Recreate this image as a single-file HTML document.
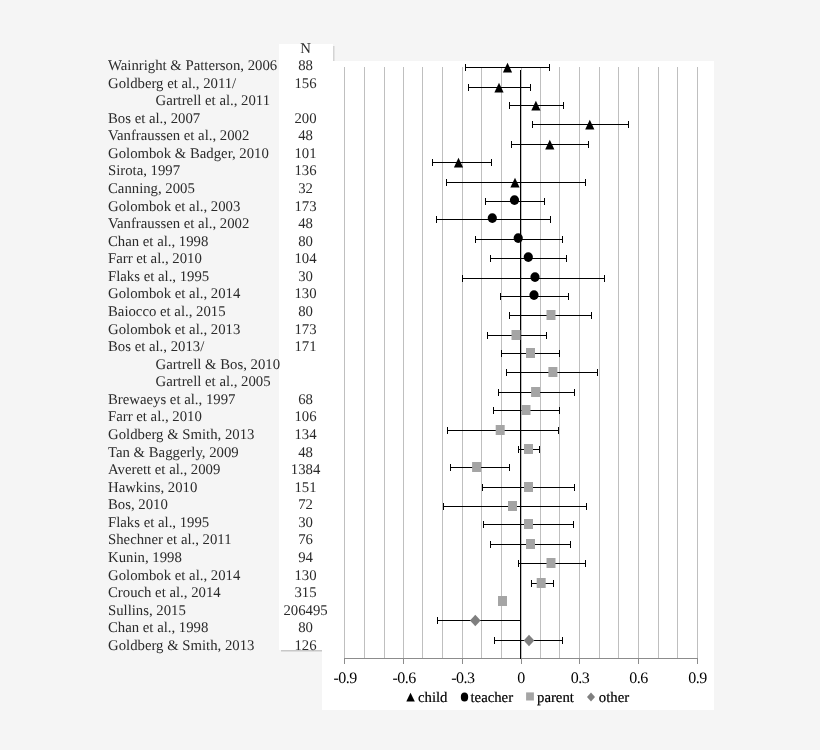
<!DOCTYPE html><html><head><meta charset="utf-8"><style>html,body{margin:0;padding:0;background:#f5f5f5;width:820px;height:750px;overflow:hidden}svg{display:block;will-change:transform}</style></head><body>
<svg width="820" height="750" viewBox="0 0 820 750" style="font-family:'Liberation Serif',serif;text-rendering:geometricPrecision">
<rect x="0" y="0" width="820" height="750" fill="#f5f5f5"/>
<rect x="279" y="44" width="54" height="606" fill="#ffffff"/>
<rect x="333" y="46" width="1.5" height="15" fill="#d4d4d4"/>
<rect x="322" y="61" width="392" height="649" fill="#ffffff"/>
<rect x="281" y="650" width="41" height="1.5" fill="#c8c8c8"/>
<rect x="344" y="67" width="1" height="591" fill="#bfbfbf"/><rect x="364" y="67" width="1" height="591" fill="#bfbfbf"/><rect x="384" y="67" width="1" height="591" fill="#bfbfbf"/><rect x="403" y="67" width="1" height="591" fill="#bfbfbf"/><rect x="422" y="67" width="1" height="591" fill="#bfbfbf"/><rect x="442" y="67" width="1" height="591" fill="#bfbfbf"/><rect x="462" y="67" width="1" height="591" fill="#bfbfbf"/><rect x="481" y="67" width="1" height="591" fill="#bfbfbf"/><rect x="501" y="67" width="1" height="591" fill="#bfbfbf"/><rect x="521" y="67" width="1" height="591" fill="#bfbfbf"/><rect x="540" y="67" width="1" height="591" fill="#bfbfbf"/><rect x="559" y="67" width="1" height="591" fill="#bfbfbf"/><rect x="579" y="67" width="1" height="591" fill="#bfbfbf"/><rect x="599" y="67" width="1" height="591" fill="#bfbfbf"/><rect x="618" y="67" width="1" height="591" fill="#bfbfbf"/><rect x="638" y="67" width="1" height="591" fill="#bfbfbf"/><rect x="658" y="67" width="1" height="591" fill="#bfbfbf"/><rect x="677" y="67" width="1" height="591" fill="#bfbfbf"/><rect x="697" y="67" width="1" height="591" fill="#bfbfbf"/>
<rect x="344" y="658" width="354" height="1" fill="#8c8c8c"/>
<rect x="344" y="658" width="1" height="6" fill="#8c8c8c"/>
<rect x="403" y="658" width="1" height="6" fill="#8c8c8c"/>
<rect x="462" y="658" width="1" height="6" fill="#8c8c8c"/>
<rect x="521" y="658" width="1" height="6" fill="#8c8c8c"/>
<rect x="579" y="658" width="1" height="6" fill="#8c8c8c"/>
<rect x="638" y="658" width="1" height="6" fill="#8c8c8c"/>
<rect x="697" y="658" width="1" height="6" fill="#8c8c8c"/>
<rect x="520" y="70" width="1" height="589" fill="#000"/>
<rect x="465" y="67" width="85" height="1" fill="#000"/><rect x="465" y="64" width="1" height="7" fill="#000"/><rect x="549" y="64" width="1" height="7" fill="#000"/><polygon points="507.5,62.7 512.1,72.6 502.9,72.6" fill="#000"/><rect x="468" y="87" width="63" height="1" fill="#000"/><rect x="468" y="84" width="1" height="7" fill="#000"/><rect x="530" y="84" width="1" height="7" fill="#000"/><polygon points="499.0,82.7 503.6,92.6 494.4,92.6" fill="#000"/><rect x="509" y="105" width="55" height="1" fill="#000"/><rect x="509" y="102" width="1" height="7" fill="#000"/><rect x="563" y="102" width="1" height="7" fill="#000"/><polygon points="535.9,100.7 540.5,110.6 531.3,110.6" fill="#000"/><rect x="532" y="124" width="97" height="1" fill="#000"/><rect x="532" y="121" width="1" height="7" fill="#000"/><rect x="628" y="121" width="1" height="7" fill="#000"/><polygon points="589.8,119.7 594.4,129.6 585.2,129.6" fill="#000"/><rect x="511" y="144" width="78" height="1" fill="#000"/><rect x="511" y="141" width="1" height="7" fill="#000"/><rect x="588" y="141" width="1" height="7" fill="#000"/><polygon points="549.8,139.7 554.4,149.6 545.2,149.6" fill="#000"/><rect x="432" y="162" width="60" height="1" fill="#000"/><rect x="432" y="159" width="1" height="7" fill="#000"/><rect x="491" y="159" width="1" height="7" fill="#000"/><polygon points="458.5,157.7 463.1,167.6 453.9,167.6" fill="#000"/><rect x="446" y="182" width="140" height="1" fill="#000"/><rect x="446" y="179" width="1" height="7" fill="#000"/><rect x="585" y="179" width="1" height="7" fill="#000"/><polygon points="515.0,177.7 519.6,187.6 510.4,187.6" fill="#000"/><rect x="485" y="201" width="60" height="1" fill="#000"/><rect x="485" y="198" width="1" height="7" fill="#000"/><rect x="544" y="198" width="1" height="7" fill="#000"/><ellipse cx="514.5" cy="200.1" rx="4.6" ry="4.9" fill="#000"/><rect x="436" y="219" width="115" height="1" fill="#000"/><rect x="436" y="216" width="1" height="7" fill="#000"/><rect x="550" y="216" width="1" height="7" fill="#000"/><ellipse cx="492.3" cy="218.1" rx="4.6" ry="4.9" fill="#000"/><rect x="475" y="239" width="88" height="1" fill="#000"/><rect x="475" y="236" width="1" height="7" fill="#000"/><rect x="562" y="236" width="1" height="7" fill="#000"/><ellipse cx="518.2" cy="238.1" rx="4.6" ry="4.9" fill="#000"/><rect x="490" y="258" width="77" height="1" fill="#000"/><rect x="490" y="255" width="1" height="7" fill="#000"/><rect x="566" y="255" width="1" height="7" fill="#000"/><ellipse cx="528.3" cy="257.1" rx="4.6" ry="4.9" fill="#000"/><rect x="462" y="278" width="143" height="1" fill="#000"/><rect x="462" y="275" width="1" height="7" fill="#000"/><rect x="604" y="275" width="1" height="7" fill="#000"/><ellipse cx="535.0" cy="277.1" rx="4.6" ry="4.9" fill="#000"/><rect x="500" y="296" width="69" height="1" fill="#000"/><rect x="500" y="293" width="1" height="7" fill="#000"/><rect x="568" y="293" width="1" height="7" fill="#000"/><ellipse cx="534.0" cy="295.1" rx="4.6" ry="4.9" fill="#000"/><rect x="509" y="315" width="83" height="1" fill="#000"/><rect x="509" y="312" width="1" height="7" fill="#000"/><rect x="591" y="312" width="1" height="7" fill="#000"/><rect x="546.5" y="310" width="9" height="10" fill="#a5a5a5"/><rect x="487" y="335" width="60" height="1" fill="#000"/><rect x="487" y="332" width="1" height="7" fill="#000"/><rect x="546" y="332" width="1" height="7" fill="#000"/><rect x="511.5" y="330" width="9" height="10" fill="#a5a5a5"/><rect x="501" y="353" width="59" height="1" fill="#000"/><rect x="501" y="350" width="1" height="7" fill="#000"/><rect x="559" y="350" width="1" height="7" fill="#000"/><rect x="526.0" y="348" width="9" height="10" fill="#a5a5a5"/><rect x="506" y="372" width="92" height="1" fill="#000"/><rect x="506" y="369" width="1" height="7" fill="#000"/><rect x="597" y="369" width="1" height="7" fill="#000"/><rect x="548.4" y="367" width="9" height="10" fill="#a5a5a5"/><rect x="498" y="392" width="77" height="1" fill="#000"/><rect x="498" y="389" width="1" height="7" fill="#000"/><rect x="574" y="389" width="1" height="7" fill="#000"/><rect x="531.1" y="387" width="9" height="10" fill="#a5a5a5"/><rect x="493" y="410" width="67" height="1" fill="#000"/><rect x="493" y="407" width="1" height="7" fill="#000"/><rect x="559" y="407" width="1" height="7" fill="#000"/><rect x="521.5" y="405" width="9" height="10" fill="#a5a5a5"/><rect x="447" y="430" width="112" height="1" fill="#000"/><rect x="447" y="427" width="1" height="7" fill="#000"/><rect x="558" y="427" width="1" height="7" fill="#000"/><rect x="495.7" y="425" width="9" height="10" fill="#a5a5a5"/><rect x="518" y="449" width="22" height="1" fill="#000"/><rect x="518" y="446" width="1" height="7" fill="#000"/><rect x="539" y="446" width="1" height="7" fill="#000"/><rect x="524.0" y="444" width="9" height="10" fill="#a5a5a5"/><rect x="450" y="467" width="60" height="1" fill="#000"/><rect x="450" y="464" width="1" height="7" fill="#000"/><rect x="509" y="464" width="1" height="7" fill="#000"/><rect x="472.1" y="462" width="9" height="10" fill="#a5a5a5"/><rect x="482" y="487" width="93" height="1" fill="#000"/><rect x="482" y="484" width="1" height="7" fill="#000"/><rect x="574" y="484" width="1" height="7" fill="#000"/><rect x="524.0" y="482" width="9" height="10" fill="#a5a5a5"/><rect x="443" y="506" width="144" height="1" fill="#000"/><rect x="443" y="503" width="1" height="7" fill="#000"/><rect x="586" y="503" width="1" height="7" fill="#000"/><rect x="508.0" y="501" width="9" height="10" fill="#a5a5a5"/><rect x="483" y="524" width="91" height="1" fill="#000"/><rect x="483" y="521" width="1" height="7" fill="#000"/><rect x="573" y="521" width="1" height="7" fill="#000"/><rect x="524.0" y="519" width="9" height="10" fill="#a5a5a5"/><rect x="490" y="544" width="81" height="1" fill="#000"/><rect x="490" y="541" width="1" height="7" fill="#000"/><rect x="570" y="541" width="1" height="7" fill="#000"/><rect x="526.0" y="539" width="9" height="10" fill="#a5a5a5"/><rect x="518" y="563" width="68" height="1" fill="#000"/><rect x="518" y="560" width="1" height="7" fill="#000"/><rect x="585" y="560" width="1" height="7" fill="#000"/><rect x="546.5" y="558" width="9" height="10" fill="#a5a5a5"/><rect x="531" y="583" width="23" height="1" fill="#000"/><rect x="531" y="580" width="1" height="7" fill="#000"/><rect x="553" y="580" width="1" height="7" fill="#000"/><rect x="536.7" y="578" width="9" height="10" fill="#a5a5a5"/><rect x="498.0" y="596" width="9" height="10" fill="#a5a5a5"/><rect x="437" y="620" width="84" height="1" fill="#000"/><rect x="437" y="617" width="1" height="7" fill="#000"/><rect x="520" y="617" width="1" height="7" fill="#000"/><polygon points="475.3,614.7 480.6,620.5 475.3,626.3 470.0,620.5" fill="#7f7f7f"/><rect x="494" y="640" width="69" height="1" fill="#000"/><rect x="494" y="637" width="1" height="7" fill="#000"/><rect x="562" y="637" width="1" height="7" fill="#000"/><polygon points="529.0,634.7 534.3,640.5 529.0,646.3 523.7,640.5" fill="#7f7f7f"/>
<text x="305.5" y="52.5" font-size="14.75" text-anchor="middle" fill="#2a2a2a">N</text><text x="108" y="69.9" font-size="14.75" fill="#2a2a2a">Wainright &amp; Patterson, 2006</text><text x="305.5" y="69.9" font-size="14.75" text-anchor="middle" fill="#2a2a2a">88</text><text x="108" y="87.5" font-size="14.75" fill="#2a2a2a">Goldberg et al., 2011/</text><text x="305.5" y="87.5" font-size="14.75" text-anchor="middle" fill="#2a2a2a">156</text><text x="155.5" y="105.0" font-size="14.75" fill="#2a2a2a">Gartrell et al., 2011</text><text x="108" y="122.6" font-size="14.75" fill="#2a2a2a">Bos et al., 2007</text><text x="305.5" y="122.6" font-size="14.75" text-anchor="middle" fill="#2a2a2a">200</text><text x="108" y="140.2" font-size="14.75" fill="#2a2a2a">Vanfraussen et al., 2002</text><text x="305.5" y="140.2" font-size="14.75" text-anchor="middle" fill="#2a2a2a">48</text><text x="108" y="157.8" font-size="14.75" fill="#2a2a2a">Golombok &amp; Badger, 2010</text><text x="305.5" y="157.8" font-size="14.75" text-anchor="middle" fill="#2a2a2a">101</text><text x="108" y="175.3" font-size="14.75" fill="#2a2a2a">Sirota, 1997</text><text x="305.5" y="175.3" font-size="14.75" text-anchor="middle" fill="#2a2a2a">136</text><text x="108" y="192.9" font-size="14.75" fill="#2a2a2a">Canning, 2005</text><text x="305.5" y="192.9" font-size="14.75" text-anchor="middle" fill="#2a2a2a">32</text><text x="108" y="210.5" font-size="14.75" fill="#2a2a2a">Golombok et al., 2003</text><text x="305.5" y="210.5" font-size="14.75" text-anchor="middle" fill="#2a2a2a">173</text><text x="108" y="228.1" font-size="14.75" fill="#2a2a2a">Vanfraussen et al., 2002</text><text x="305.5" y="228.1" font-size="14.75" text-anchor="middle" fill="#2a2a2a">48</text><text x="108" y="245.6" font-size="14.75" fill="#2a2a2a">Chan et al., 1998</text><text x="305.5" y="245.6" font-size="14.75" text-anchor="middle" fill="#2a2a2a">80</text><text x="108" y="263.2" font-size="14.75" fill="#2a2a2a">Farr et al., 2010</text><text x="305.5" y="263.2" font-size="14.75" text-anchor="middle" fill="#2a2a2a">104</text><text x="108" y="280.8" font-size="14.75" fill="#2a2a2a">Flaks et al., 1995</text><text x="305.5" y="280.8" font-size="14.75" text-anchor="middle" fill="#2a2a2a">30</text><text x="108" y="298.3" font-size="14.75" fill="#2a2a2a">Golombok et al., 2014</text><text x="305.5" y="298.3" font-size="14.75" text-anchor="middle" fill="#2a2a2a">130</text><text x="108" y="315.9" font-size="14.75" fill="#2a2a2a">Baiocco et al., 2015</text><text x="305.5" y="315.9" font-size="14.75" text-anchor="middle" fill="#2a2a2a">80</text><text x="108" y="333.5" font-size="14.75" fill="#2a2a2a">Golombok et al., 2013</text><text x="305.5" y="333.5" font-size="14.75" text-anchor="middle" fill="#2a2a2a">173</text><text x="108" y="351.1" font-size="14.75" fill="#2a2a2a">Bos et al., 2013/</text><text x="305.5" y="351.1" font-size="14.75" text-anchor="middle" fill="#2a2a2a">171</text><text x="155.5" y="368.6" font-size="14.75" fill="#2a2a2a">Gartrell &amp; Bos, 2010</text><text x="155.5" y="386.2" font-size="14.75" fill="#2a2a2a">Gartrell et al., 2005</text><text x="108" y="403.8" font-size="14.75" fill="#2a2a2a">Brewaeys et al., 1997</text><text x="305.5" y="403.8" font-size="14.75" text-anchor="middle" fill="#2a2a2a">68</text><text x="108" y="421.4" font-size="14.75" fill="#2a2a2a">Farr et al., 2010</text><text x="305.5" y="421.4" font-size="14.75" text-anchor="middle" fill="#2a2a2a">106</text><text x="108" y="438.9" font-size="14.75" fill="#2a2a2a">Goldberg &amp; Smith, 2013</text><text x="305.5" y="438.9" font-size="14.75" text-anchor="middle" fill="#2a2a2a">134</text><text x="108" y="456.5" font-size="14.75" fill="#2a2a2a">Tan &amp; Baggerly, 2009</text><text x="305.5" y="456.5" font-size="14.75" text-anchor="middle" fill="#2a2a2a">48</text><text x="108" y="474.1" font-size="14.75" fill="#2a2a2a">Averett et al., 2009</text><text x="305.5" y="474.1" font-size="14.75" text-anchor="middle" fill="#2a2a2a">1384</text><text x="108" y="491.6" font-size="14.75" fill="#2a2a2a">Hawkins, 2010</text><text x="305.5" y="491.6" font-size="14.75" text-anchor="middle" fill="#2a2a2a">151</text><text x="108" y="509.2" font-size="14.75" fill="#2a2a2a">Bos, 2010</text><text x="305.5" y="509.2" font-size="14.75" text-anchor="middle" fill="#2a2a2a">72</text><text x="108" y="526.8" font-size="14.75" fill="#2a2a2a">Flaks et al., 1995</text><text x="305.5" y="526.8" font-size="14.75" text-anchor="middle" fill="#2a2a2a">30</text><text x="108" y="544.4" font-size="14.75" fill="#2a2a2a">Shechner et al., 2011</text><text x="305.5" y="544.4" font-size="14.75" text-anchor="middle" fill="#2a2a2a">76</text><text x="108" y="561.9" font-size="14.75" fill="#2a2a2a">Kunin, 1998</text><text x="305.5" y="561.9" font-size="14.75" text-anchor="middle" fill="#2a2a2a">94</text><text x="108" y="579.5" font-size="14.75" fill="#2a2a2a">Golombok et al., 2014</text><text x="305.5" y="579.5" font-size="14.75" text-anchor="middle" fill="#2a2a2a">130</text><text x="108" y="597.1" font-size="14.75" fill="#2a2a2a">Crouch et al., 2014</text><text x="305.5" y="597.1" font-size="14.75" text-anchor="middle" fill="#2a2a2a">315</text><text x="108" y="614.7" font-size="14.75" fill="#2a2a2a">Sullins, 2015</text><text x="305.5" y="614.7" font-size="14.75" text-anchor="middle" fill="#2a2a2a">206495</text><text x="108" y="632.2" font-size="14.75" fill="#2a2a2a">Chan et al., 1998</text><text x="305.5" y="632.2" font-size="14.75" text-anchor="middle" fill="#2a2a2a">80</text><text x="108" y="649.8" font-size="14.75" fill="#2a2a2a">Goldberg &amp; Smith, 2013</text><text x="305.5" y="649.8" font-size="14.75" text-anchor="middle" fill="#2a2a2a">126</text><text x="345.15" y="683" font-size="16" letter-spacing="-0.5" text-anchor="middle" fill="#000" stroke="#000" stroke-width="0">-0.9</text><text x="404.15" y="683" font-size="16" letter-spacing="-0.5" text-anchor="middle" fill="#000" stroke="#000" stroke-width="0">-0.6</text><text x="462.85" y="683" font-size="16" letter-spacing="-0.5" text-anchor="middle" fill="#000" stroke="#000" stroke-width="0">-0.3</text><text x="521.00" y="683" font-size="16" letter-spacing="-0.5" text-anchor="middle" fill="#000" stroke="#000" stroke-width="0">0</text><text x="580.10" y="683" font-size="16" letter-spacing="-0.5" text-anchor="middle" fill="#000" stroke="#000" stroke-width="0">0.3</text><text x="638.60" y="683" font-size="16" letter-spacing="-0.5" text-anchor="middle" fill="#000" stroke="#000" stroke-width="0">0.6</text><text x="697.45" y="683" font-size="16" letter-spacing="-0.5" text-anchor="middle" fill="#000" stroke="#000" stroke-width="0">0.9</text>
<polygon points="410.5,692.8 414.8,701.6 406.3,701.6" fill="#000"/><text x="418" y="701.5" font-size="14.75" fill="#000" stroke="#000" stroke-width="0.2">child</text><ellipse cx="464.5" cy="697" rx="3.7" ry="4.5" fill="#000"/><text x="470.5" y="701.5" font-size="14.75" fill="#000" stroke="#000" stroke-width="0.2">teacher</text><rect x="526.1" y="692.4" width="7.8" height="8.1" fill="#a5a5a5"/><text x="537" y="701.5" font-size="14.75" fill="#000" stroke="#000" stroke-width="0.2">parent</text><polygon points="591,692.5 595,697 591,701.5 587,697" fill="#7f7f7f"/><text x="598.8" y="701.5" font-size="14.75" fill="#000" stroke="#000" stroke-width="0.2">other</text>
</svg></body></html>
